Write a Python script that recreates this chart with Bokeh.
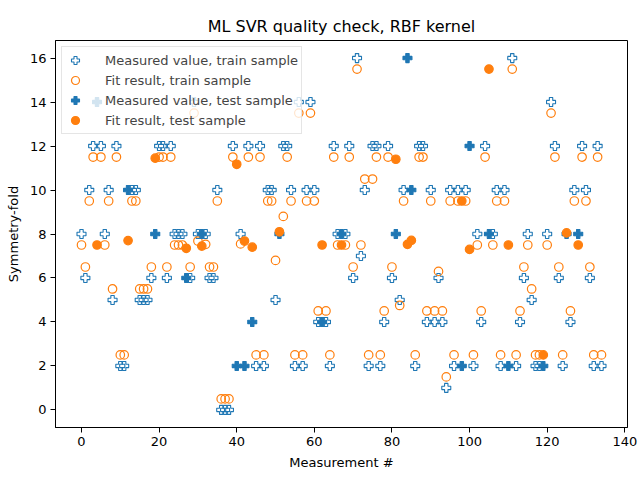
from bokeh.plotting import figure
from bokeh.models import Range1d, FixedTicker, ColumnDataSource
from bokeh.embed import file_html
from bokeh.resources import INLINE

# Measurement index, measured symmetry-fold and SVR fit for every sample
measurement = list(range(135))
measured = [
    8, 6, 10, 12, 14, 12, 8, 10, 5, 12,
    2, 2, 10, 10, 10, 5, 5, 5, 6, 8,
    12, 12, 6, 12, 8, 8, 8, 6, 6, 14,
    8, 8, 8, 6, 6, 10, 0, 0, 0, 12,
    2, 8, 2, 12, 4, 2, 12, 2, 10, 10,
    5, 8, 12, 12, 10, 2, 14, 2, 10, 14,
    10, 4, 4, 4, 2, 12, 8, 8, 8, 12,
    6, 16, 7, 10, 2, 12, 12, 2, 4, 12,
    6, 8, 5, 10, 16, 10, 2, 12, 12, 4,
    10, 4, 6, 4, 1, 10, 2, 10, 2, 10,
    12, 2, 8, 4, 12, 8, 8, 10, 2, 10,
    2, 16, 2, 4, 6, 8, 5, 2, 2, 2,
    8, 14, 12, 6, 2, 8, 4, 10, 8, 12,
    10, 6, 2, 12, 2,
]
fitted = [
    7.5, 6.5, 9.5, 11.5, 7.5, 11.5, 7.5, 9.5, 5.5, 11.5,
    2.5, 2.5, 7.7, 9.5, 9.5, 5.5, 5.5, 5.5, 6.5, 11.45,
    11.5, 11.5, 6.5, 11.5, 7.5, 7.5, 7.5, 7.35, 6.5, 13.5,
    7.68, 7.45, 7.53, 6.5, 6.5, 9.5, 0.5, 0.5, 0.5, 11.5,
    11.17, 7.55, 7.68, 11.5, 7.4, 2.5, 11.5, 2.5, 9.5, 9.5,
    6.8, 8.1, 8.8, 11.5, 9.5, 2.5, 13.5, 2.5, 9.5, 13.5,
    9.5, 4.5, 7.5, 4.5, 2.5, 11.5, 7.5, 7.5, 7.5, 11.5,
    6.5, 15.5, 7.5, 10.5, 2.5, 10.5, 11.5, 2.5, 4.5, 11.5,
    6.5, 11.4, 4.75, 9.5, 7.53, 7.71, 2.5, 11.5, 11.5, 4.5,
    9.5, 4.5, 6.3, 4.5, 1.5, 9.5, 2.5, 9.5, 9.5, 9.5,
    7.3, 2.5, 7.5, 4.5, 11.5, 15.5, 7.5, 9.5, 2.5, 9.5,
    7.5, 15.5, 2.5, 4.5, 6.5, 7.5, 5.5, 2.5, 2.5, 2.5,
    7.5, 13.5, 11.5, 6.5, 2.5, 8.05, 4.5, 9.5, 7.5, 11.5,
    9.5, 6.5, 2.5, 11.5, 2.5,
]
# Samples held out for testing
test_ids = [4, 12, 19, 27, 31, 40, 42, 44, 51, 62, 67, 81, 84, 85,
            98, 100, 105, 110, 119, 125, 128]

x_ticks = [0, 20, 40, 60, 80, 100, 120, 140]
y_ticks = [0, 2, 4, 6, 8, 10, 12, 14, 16]

test_set = set(test_ids)
train = dict(x=[], m=[], f=[])
test = dict(x=[], m=[], f=[])
for i, m, f in zip(measurement, measured, fitted):
    d = test if i in test_set else train
    d["x"].append(i)
    d["m"].append(m)
    d["f"].append(f)
src_train = ColumnDataSource(train)
src_test = ColumnDataSource(test)

BLUE = "#1f77b4"
ORANGE = "#ff7f0e"
FONT = "DejaVu Sans"

p = figure(width=640, height=480, output_backend="svg", toolbar_location=None,
           x_range=Range1d(-6.7, 140.7), y_range=Range1d(-0.8, 16.8),
           title="ML SVR quality check, RBF kernel",
           min_border_left=55, min_border_right=13,
           min_border_top=40, min_border_bottom=53)

p.scatter("x", "m", source=src_train, marker="plus", size=9,
          fill_alpha=0, line_color=BLUE, line_width=1.1,
          legend_label="Measured value, train sample")
p.scatter("x", "f", source=src_train, marker="circle", size=8.5,
          fill_alpha=0, line_color=ORANGE, line_width=1.2,
          legend_label="Fit result, train sample")
p.scatter("x", "m", source=src_test, marker="plus", size=9,
          fill_color=BLUE, line_color=BLUE, line_width=1.1,
          legend_label="Measured value, test sample")
p.scatter("x", "f", source=src_test, marker="circle", size=8.5,
          fill_color=ORANGE, line_color=ORANGE, line_width=1.2,
          legend_label="Fit result, test sample")

p.title.align = "center"
p.title.text_font = FONT
p.title.text_font_size = "16px"
p.title.text_font_style = "normal"
p.title.text_color = "black"

p.xgrid.visible = False
p.ygrid.visible = False
p.outline_line_color = "black"
p.outline_line_width = 1
p.outline_line_alpha = 1

p.xaxis.ticker = FixedTicker(ticks=x_ticks)
p.yaxis.ticker = FixedTicker(ticks=y_ticks)
p.xaxis.axis_label = "Measurement #"
p.yaxis.axis_label = "Symmetry-fold"
for ax in (p.xaxis[0], p.yaxis[0]):
    ax.axis_label_text_font = FONT
    ax.axis_label_text_font_size = "13px"
    ax.axis_label_text_font_style = "normal"
    ax.axis_label_text_color = "black"
    ax.major_label_text_font = FONT
    ax.major_label_text_font_size = "13px"
    ax.major_label_text_color = "black"
    ax.major_tick_out = 5
    ax.major_tick_in = 0
    ax.minor_tick_out = 0
    ax.minor_tick_in = 0
    ax.axis_line_color = "black"
    ax.major_tick_line_color = "black"
    ax.major_label_standoff = 4
    ax.axis_label_standoff = 6

leg = p.legend[0]
leg.location = "top_left"
leg.margin = 6
leg.padding = 3
leg.spacing = 0
leg.glyph_width = 20
leg.glyph_height = 20
leg.label_height = 20
leg.label_standoff = 20
leg.label_text_font = FONT
leg.label_text_font_size = "13px"
leg.border_line_color = "#cccccc"
leg.border_line_width = 1
leg.background_fill_alpha = 0.8

open("out.html", "w").write(file_html(p, INLINE))
